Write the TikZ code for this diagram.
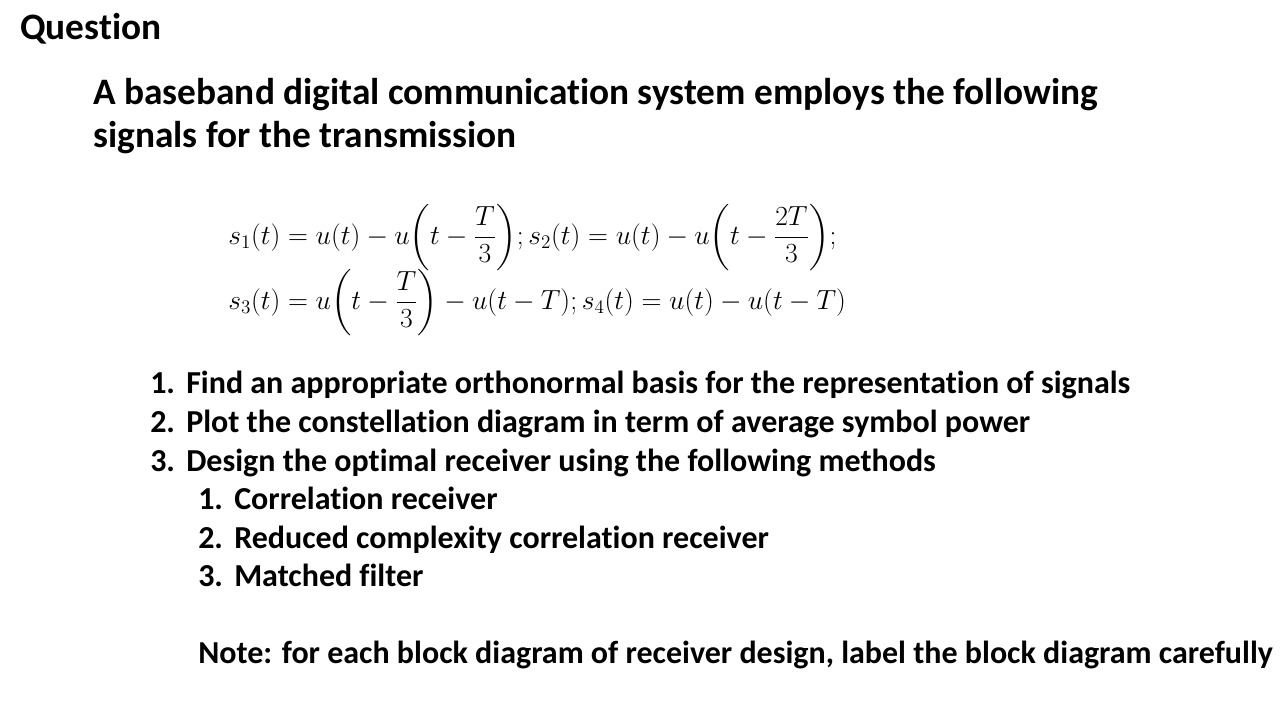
\documentclass[tikz,border=0pt]{standalone}
\usepackage{amsmath}
\usepackage{fontspec}
\setmainfont{Carlito}[RawFeature={-liga;-dlig;-clig}]
\begin{document}
\begin{tikzpicture}[x=0.75pt,y=-0.75pt,
  txt/.style={anchor=base west,inner sep=0pt,font=\bfseries\fontsize{24}{29}\selectfont},
  big/.style={anchor=base west,inner sep=0pt,font=\bfseries\fontsize{28}{34}\selectfont},
  eq/.style={anchor=base west,inner sep=0pt,font=\fontsize{22}{26}\selectfont}]
\useasboundingbox (0,0) rectangle (1280,720);
\node[big] (q) at (20,40) {Question};
\node[big] (l1) at (93,105) {A baseband digital communication system employs the following};
\node[big] (l2) at (93,148) {signals for the transmission};
\node[eq] (e1) at (228,244) {$\displaystyle s_1(t)=u(t)-u\biggl(t-\frac{T}{3}\biggr);s_2(t)=u(t)-u\biggl(t-\frac{2T}{3}\biggr);$};
\node[eq] (e2) at (228,309) {$\displaystyle s_3(t)=u\biggl(t-\frac{T}{3}\biggr)-u(t-T);s_4(t)=u(t)-u(t-T)$};
\node[txt] (n1) at (150,393) {1.};
\node[txt] (t1) at (186,393) {Find an appropriate orthonormal basis for the representation of signals};
\node[txt] (n2) at (150,432) {2.};
\node[txt] (t2) at (186,432) {Plot the constellation diagram in term of average symbol power};
\node[txt] (n3) at (150,471) {3.};
\node[txt] (t3) at (186,471) {Design the optimal receiver using the following methods};
\node[txt] (m1) at (198,509) {1.};
\node[txt] (s1) at (234,509) {Correlation receiver};
\node[txt] (m2) at (198,548) {2.};
\node[txt] (s2) at (234,548) {Reduced complexity correlation receiver};
\node[txt] (m3) at (198,586) {3.};
\node[txt] (s3) at (234,586) {Matched filter};
\node[txt] (note) at (198,663) {Note: for each block diagram of receiver design, label the block diagram carefully};
\end{tikzpicture}
\end{document}
